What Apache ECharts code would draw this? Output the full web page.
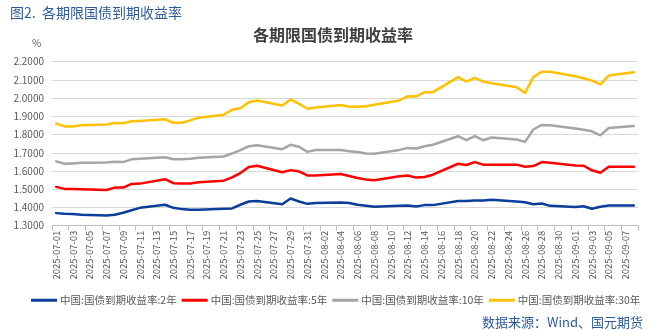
<!DOCTYPE html>
<html>
<head>
<meta charset="utf-8">
<script src="https://cdn.jsdelivr.net/npm/echarts@6/dist/echarts.min.js"></script>
<style>
html,body{margin:0;padding:0;background:#fff;}
#chart{width:654px;height:330px;}
</style>
</head>
<body>
<div id="chart"></div>
<script>
// Calendar categories on the x axis (every day, labels every second day)
const categories = [
'2025-07-01','2025-07-02','2025-07-03','2025-07-04','2025-07-05','2025-07-06','2025-07-07','2025-07-08','2025-07-09','2025-07-10',
'2025-07-11','2025-07-12','2025-07-13','2025-07-14','2025-07-15','2025-07-16','2025-07-17','2025-07-18','2025-07-19','2025-07-20',
'2025-07-21','2025-07-22','2025-07-23','2025-07-24','2025-07-25','2025-07-26','2025-07-27','2025-07-28','2025-07-29','2025-07-30',
'2025-07-31','2025-08-01','2025-08-02','2025-08-03','2025-08-04','2025-08-05','2025-08-06','2025-08-07','2025-08-08','2025-08-09',
'2025-08-10','2025-08-11','2025-08-12','2025-08-13','2025-08-14','2025-08-15','2025-08-16','2025-08-17','2025-08-18','2025-08-19',
'2025-08-20','2025-08-21','2025-08-22','2025-08-23','2025-08-24','2025-08-25','2025-08-26','2025-08-27','2025-08-28','2025-08-29',
'2025-08-30','2025-08-31','2025-09-01','2025-09-02','2025-09-03','2025-09-04','2025-09-05','2025-09-06','2025-09-07','2025-09-08'
];

// Trading days with observations
const tradeDates = [
'2025-07-01','2025-07-02','2025-07-03','2025-07-04','2025-07-07','2025-07-08','2025-07-09','2025-07-10','2025-07-11','2025-07-14',
'2025-07-15','2025-07-16','2025-07-17','2025-07-18','2025-07-21','2025-07-22','2025-07-23','2025-07-24','2025-07-25','2025-07-28',
'2025-07-29','2025-07-30','2025-07-31','2025-08-01','2025-08-04','2025-08-05','2025-08-06','2025-08-07','2025-08-08','2025-08-11',
'2025-08-12','2025-08-13','2025-08-14','2025-08-15','2025-08-18','2025-08-19','2025-08-20','2025-08-21','2025-08-22','2025-08-25',
'2025-08-26','2025-08-27','2025-08-28','2025-08-29','2025-09-01','2025-09-02','2025-09-03','2025-09-04','2025-09-05','2025-09-08'
];

const y2 = [1.369,1.365,1.364,1.360,1.356,1.360,1.371,1.385,1.398,1.415,1.398,1.391,1.387,1.387,1.393,1.395,1.415,1.433,1.435,1.418,
1.449,1.433,1.420,1.424,1.427,1.425,1.415,1.409,1.404,1.409,1.411,1.405,1.413,1.413,1.436,1.436,1.438,1.438,1.442,1.433,
1.429,1.418,1.422,1.409,1.402,1.407,1.393,1.404,1.411,1.411];

const y5 = [1.513,1.502,1.502,1.500,1.496,1.509,1.509,1.529,1.531,1.555,1.533,1.531,1.531,1.538,1.547,1.565,1.589,1.622,1.629,1.593,
1.605,1.598,1.576,1.575,1.584,1.573,1.562,1.553,1.549,1.571,1.575,1.564,1.567,1.580,1.640,1.633,1.649,1.635,1.635,1.635,
1.624,1.627,1.649,1.645,1.631,1.629,1.604,1.591,1.624,1.624];

const y10 = [1.653,1.640,1.642,1.645,1.647,1.651,1.649,1.664,1.667,1.676,1.665,1.665,1.667,1.673,1.680,1.696,1.715,1.736,1.742,1.720,
1.744,1.733,1.705,1.715,1.716,1.709,1.705,1.696,1.695,1.716,1.727,1.724,1.736,1.744,1.791,1.769,1.791,1.769,1.784,1.773,
1.760,1.828,1.853,1.851,1.833,1.827,1.818,1.796,1.836,1.847];

const y30 = [1.860,1.845,1.845,1.851,1.855,1.864,1.862,1.873,1.875,1.884,1.865,1.865,1.878,1.893,1.909,1.936,1.945,1.978,1.987,1.960,
1.993,1.969,1.942,1.949,1.962,1.953,1.953,1.956,1.964,1.987,2.011,2.009,2.033,2.033,2.115,2.091,2.111,2.091,2.082,2.060,
2.029,2.116,2.145,2.145,2.120,2.109,2.096,2.075,2.124,2.142];

const seriesNames = ['中国:国债到期收益率:2年','中国:国债到期收益率:5年','中国:国债到期收益率:10年','中国:国债到期收益率:30年'];
const seriesValues = [y2, y5, y10, y30];
const seriesColors = ['#0B3D9A', '#FF0000', '#A5A5A5', '#FFC000'];

const FONT = '"Noto Sans CJK SC", "Noto Sans", sans-serif';

const chart = echarts.init(document.getElementById('chart'), null, {renderer: 'canvas'});

const series = seriesNames.map((name, k) => ({
  name: name,
  type: 'line',
  data: tradeDates.map((d, i) => [d, seriesValues[k][i]]),
  showSymbol: false,
  symbol: 'none',
  connectNulls: true,
  lineStyle: {width: 2.5, color: seriesColors[k], cap: 'round', join: 'round'},
  itemStyle: {color: seriesColors[k]},
  emphasis: {disabled: true},
  animation: false
}));

chart.setOption({
  backgroundColor: '#ffffff',
  animation: false,
  textStyle: {fontFamily: FONT},
  title: [
    {text: '图2.  各期限国债到期收益率', left: 5, top: 1,
     textStyle: {fontSize: 14, fontWeight: 'normal', color: '#2E5B9A', fontFamily: FONT}},
    {text: '各期限国债到期收益率', left: 248, top: 22,
     textStyle: {fontSize: 16, fontWeight: 'bold', color: '#404040', fontFamily: FONT}},
    {text: '%', left: 27, top: 33,
     textStyle: {fontSize: 10, fontWeight: 'normal', color: '#595959', fontFamily: FONT}},
    {text: '数据来源：Wind、国元期货', right: 6, top: 311,
     textStyle: {fontSize: 13, fontWeight: 'normal', color: '#2E5B9A', fontFamily: FONT}}
  ],
  legend: {
    left: 26, top: 290,
    icon: 'rect', itemWidth: 26, itemHeight: 3, itemGap: 5,
    textStyle: {fontSize: 10.5, color: '#595959', fontFamily: FONT, padding: [0, 0, 0, -2]},
    data: seriesNames
  },
  grid: {left: 52, right: 16, top: 61.7, bottom: 104.3, containLabel: false, outerBoundsMode: 'none'},
  xAxis: {
    type: 'category',
    data: categories,
    boundaryGap: true,
    axisLine: {show: true, lineStyle: {color: '#BFBFBF', width: 1}},
    axisTick: {show: true, interval: 1, length: 5, lineStyle: {color: '#BFBFBF'}},
    axisLabel: {interval: 1, rotate: 90, fontSize: 9.5, color: '#595959', margin: 5, fontFamily: FONT},
    splitLine: {show: false}
  },
  yAxis: {
    type: 'value',
    min: 1.3, max: 2.2, interval: 0.1,
    axisLine: {show: false},
    axisTick: {show: false},
    axisLabel: {fontSize: 10, color: '#595959', margin: 8, fontFamily: FONT,
      formatter: v => v.toFixed(4)},
    splitLine: {lineStyle: {color: '#D9D9D9', width: 1}}
  },
  series: series
});
</script>
</body>
</html>
